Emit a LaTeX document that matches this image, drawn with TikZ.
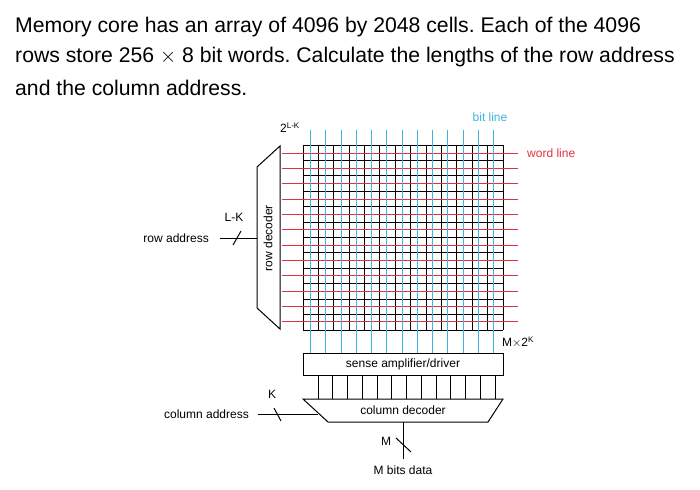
\documentclass[tikz,border=0pt]{standalone}
\usepackage{fontspec}
\setmainfont{Liberation Sans}
\definecolor{bl}{RGB}{60,180,220}
\definecolor{rd}{RGB}{225,50,60}
\begin{document}
\frenchspacing
\begin{tikzpicture}[x=1pt,y=-1pt,
  head/.style={anchor=west,inner sep=0pt,font=\fontsize{21.2}{24}\selectfont},
  lbl/.style={inner sep=0pt,font=\fontsize{12}{14}\selectfont},
  wire/.style={line width=1pt}]
\useasboundingbox (0,0) rectangle (700,489);
\node[head] (h1) at (15,27) {Memory core has an array of 4096 by 2048 cells. Each of the 4096};
\node[head] (h2) at (15,57) {rows store 256 $\times$ 8 bit words. Calculate the lengths of the row address};
\node[head] (h3) at (15,88) {and the column address.};
% grid
\foreach \i in {0,...,13} \draw[line width=0.9pt] ({303+\i*200/13},145) -- ({303+\i*200/13},330);
\foreach \i in {0,...,12} \draw[line width=0.9pt] (303,{145+\i*185/12}) -- (503,{145+\i*185/12});
% word lines
\foreach \i in {0,...,11} \draw[rd,line width=0.9pt] (282,{153+\i*15.35}) -- (518,{153+\i*15.35});
% bit lines
\foreach \i in {0,...,12} \draw[bl,line width=0.9pt] ({310.5+\i*15.25},130) -- ({310.5+\i*15.25},353);
% row decoder
\draw[wire] (280,146) -- (257,167) -- (257,308) -- (280,329) -- cycle;
\node[lbl,rotate=90] (rdec) at (268,238) {row decoder};
\coordinate (rdin) at (257,238);
\node[lbl,anchor=east] (ra) at (209,238) {row address};
\draw[wire] (ra.east)++(11,0) coordinate (ras) -- (rdin);
\draw[wire] (233,245) -- (241,231);
\node[lbl] (lk) at (234,217) {L-K};
\node[lbl] (tlk) at (290,128) {2$^{\mbox{\fontsize{8}{9}\selectfont L-K}}$};
\node[lbl,bl] (bitl) at (490,117) {bit line};
\node[lbl,rd,anchor=west] (wl) at (527,153) {word line};
\node[lbl] (mk) at (518,342) {M$\times$2$^{\mbox{\fontsize{8}{9}\selectfont K}}$};
% sense amp
\node[draw,line width=0.9pt,minimum width=200pt,minimum height=22pt,inner sep=0pt,font=\fontsize{12}{14}\selectfont] (sa) at (403,364) {sense amplifier/driver};
\foreach \i in {0,...,12} \draw[wire] ({318+\i*(177/12)},375) -- ({318+\i*(177/12)},399);
% column decoder
\draw[wire] (303,399) -- (503,399) -- (488,422) -- (328,422) -- cycle;
\node[lbl] (cd) at (403,410) {column decoder};
\node[lbl,anchor=east] (ca) at (249,414) {column address};
\coordinate (cdin) at (318,414);
\draw[wire] (258,414) -- (cdin);
\draw[wire] (274,408) -- (281,421);
\node[lbl] (kk) at (272,394) {K};
\coordinate (cdout) at (403,422);
\node[lbl] (md) at (403,470) {M bits data};
\draw[wire] (cdout) -- (403,459);
\draw[wire] (396,438) -- (411,452);
\node[lbl] (mm) at (386,441) {M};
\end{tikzpicture}
\end{document}
